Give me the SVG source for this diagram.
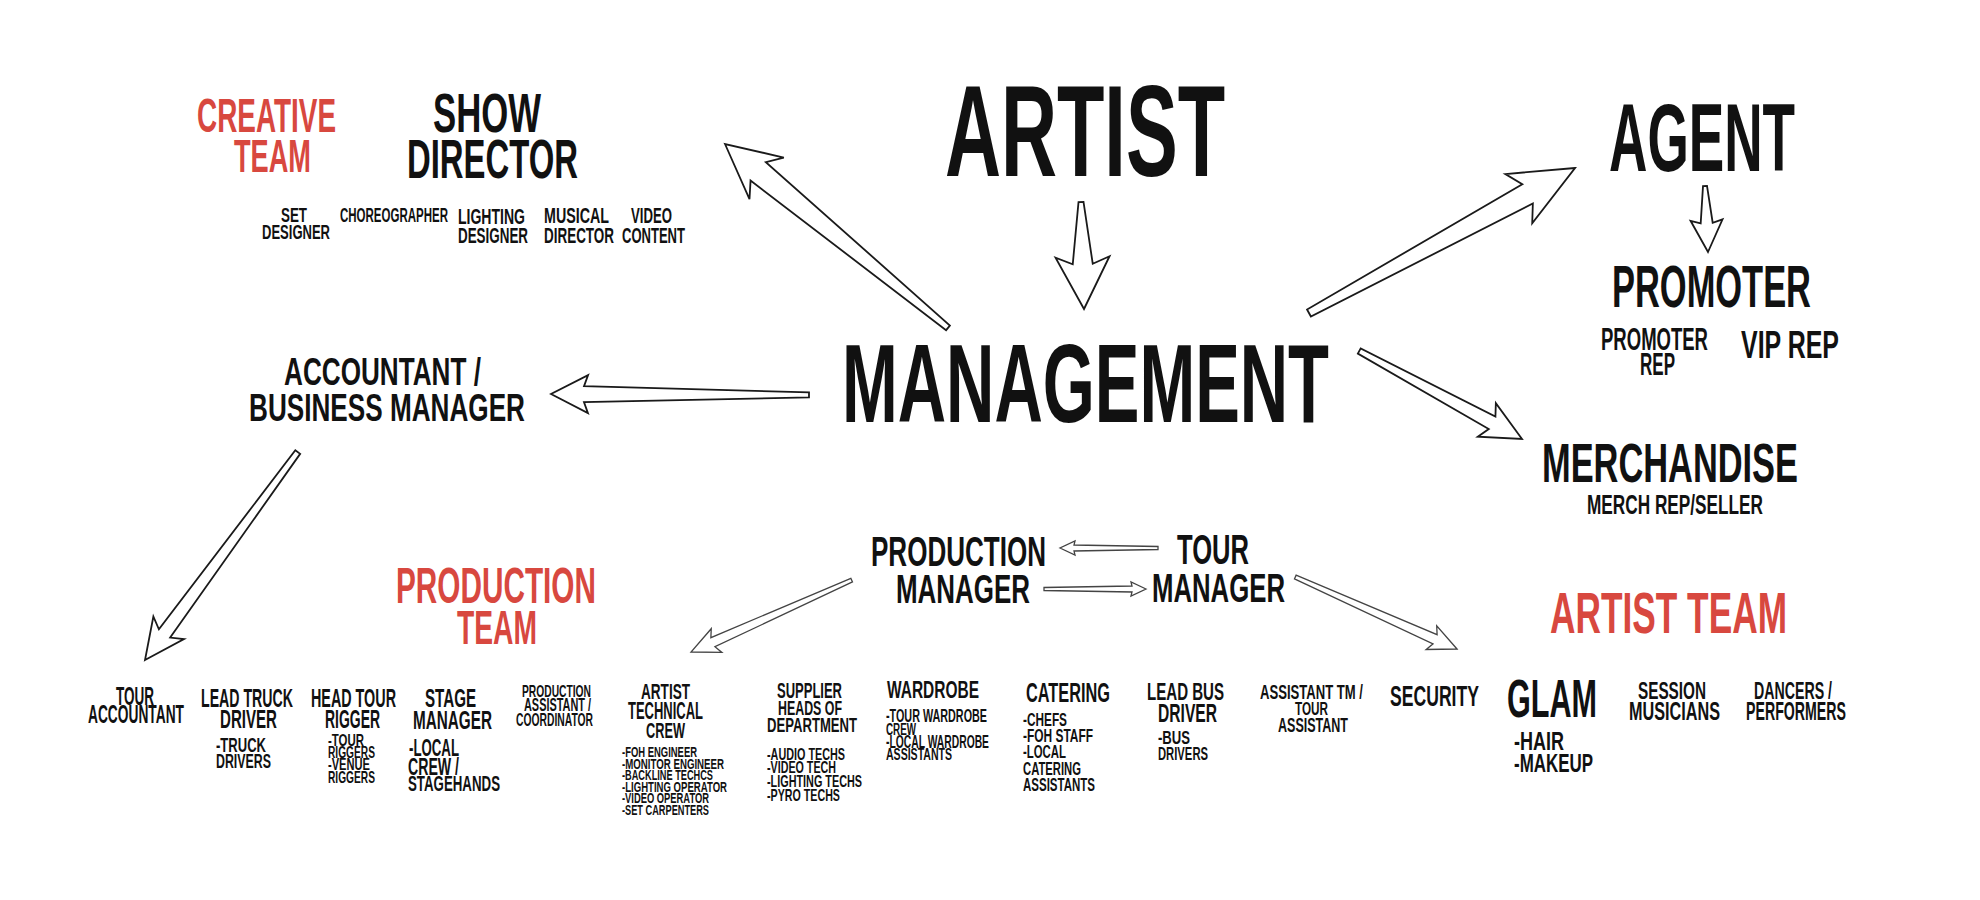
<svg xmlns="http://www.w3.org/2000/svg" width="1980" height="900" viewBox="0 0 1980 900">
<style>
text{font-family:"Liberation Sans Narrow","Liberation Sans",Arial,sans-serif;font-weight:bold;fill:#111}
.r{fill:#d8483f}
.arr{fill:#fff;stroke:#1a1a1a;stroke-width:1.8;stroke-linejoin:miter}
.sm{stroke:#444;stroke-width:1.3}
</style>
<rect width="1980" height="900" fill="#fff"/>
<g id="connectors">
<polygon class="arr" points="0,0 -54,-27 -43,-12 -289,-3 -289,3 -43,12 -54,27" transform="translate(725,144) rotate(-140.5)"/>
<polygon class="arr" points="0,0 -52,-27 -45,-10 -107,-2.5 -107,2.5 -45,10 -52,27" transform="translate(1084,309) rotate(88.4)"/>
<polygon class="arr" points="0,0 -64,-28 -54,-11 -303,-4 -303,4 -54,11 -64,28" transform="translate(1575,168) rotate(-28.6)"/>
<polygon class="arr" points="0,0 -32,-16 -29,-6 -66,-2 -66,2 -29,6 -32,16" transform="translate(1708,252) rotate(87.4)"/>
<polygon class="arr" points="0,0 -40,-19 -34,-7 -185,-3 -185,3 -34,7 -40,19" transform="translate(1522,439) rotate(28.4)"/>
<polygon class="arr" points="0,0 -37,-19 -33,-8 -258,-2.5 -258,2.5 -33,8 -37,19" transform="translate(551,394) rotate(180.2)"/>
<polygon class="arr" points="0,0 -40,-19 -33,-7 -258,-3 -258,3 -33,7 -40,19" transform="translate(145,660) rotate(126.3)"/>
<polygon class="arr sm" points="0,0 -28,-13 -24,-5 -176,-2 -176,2 -24,5 -28,13" transform="translate(691,652) rotate(155.9)"/>
<polygon class="arr sm" points="0,0 -15,-7 -14,-3 -98,-1.5 -98,1.5 -14,3 -15,7" transform="translate(1060,548) rotate(180)"/>
<polygon class="arr sm" points="0,0 -15,-7 -14,-3 -102,-1.5 -102,1.5 -14,3 -15,7" transform="translate(1146,589)"/>
<polygon class="arr sm" points="0,0 -28,-13 -24,-5 -177,-2 -177,2 -24,5 -28,13" transform="translate(1457,649) rotate(24)"/>
</g>
<g id="creative-team">
<text class="r" x="197" y="132" font-size="49" textLength="139" lengthAdjust="spacingAndGlyphs">CREATIVE</text>
<text class="r" x="234" y="172" font-size="47" textLength="77" lengthAdjust="spacingAndGlyphs">TEAM</text>
</g>
<g id="show-director">
<text x="433" y="132" font-size="56" textLength="108" lengthAdjust="spacingAndGlyphs">SHOW</text>
<text x="407" y="178" font-size="55" textLength="171" lengthAdjust="spacingAndGlyphs">DIRECTOR</text>
</g>
<g id="set-designer">
<text x="281" y="222" font-size="21" textLength="26" lengthAdjust="spacingAndGlyphs">SET</text>
<text x="262" y="239" font-size="20" textLength="68" lengthAdjust="spacingAndGlyphs">DESIGNER</text>
</g>
<g id="choreographer">
<text x="340" y="222" font-size="21" textLength="108" lengthAdjust="spacingAndGlyphs">CHOREOGRAPHER</text>
</g>
<g id="lighting-designer">
<text x="458" y="224" font-size="22" textLength="67" lengthAdjust="spacingAndGlyphs">LIGHTING</text>
<text x="458" y="243" font-size="22" textLength="70" lengthAdjust="spacingAndGlyphs">DESIGNER</text>
</g>
<g id="musical-director">
<text x="544" y="223" font-size="22" textLength="65" lengthAdjust="spacingAndGlyphs">MUSICAL</text>
<text x="544" y="243" font-size="22" textLength="70" lengthAdjust="spacingAndGlyphs">DIRECTOR</text>
</g>
<g id="video-content">
<text x="631" y="223" font-size="22" textLength="41" lengthAdjust="spacingAndGlyphs">VIDEO</text>
<text x="622" y="243" font-size="22" textLength="63" lengthAdjust="spacingAndGlyphs">CONTENT</text>
</g>
<g id="artist">
<text x="945" y="176" font-size="129" textLength="280" lengthAdjust="spacingAndGlyphs">ARTIST</text>
</g>
<g id="management">
<text x="842" y="422" font-size="112" textLength="487" lengthAdjust="spacingAndGlyphs">MANAGEMENT</text>
</g>
<g id="agent">
<text x="1609" y="171" font-size="96" textLength="186" lengthAdjust="spacingAndGlyphs">AGENT</text>
</g>
<g id="promoter">
<text x="1612" y="307" font-size="59" textLength="199" lengthAdjust="spacingAndGlyphs">PROMOTER</text>
</g>
<g id="promoter-rep">
<text x="1601" y="350" font-size="31" textLength="107" lengthAdjust="spacingAndGlyphs">PROMOTER</text>
<text x="1640" y="375" font-size="31" textLength="35" lengthAdjust="spacingAndGlyphs">REP</text>
</g>
<g id="vip-rep">
<text x="1741" y="358" font-size="39" textLength="98" lengthAdjust="spacingAndGlyphs">VIP REP</text>
</g>
<g id="merchandise">
<text x="1542" y="482" font-size="56" textLength="256" lengthAdjust="spacingAndGlyphs">MERCHANDISE</text>
<text x="1587" y="514" font-size="27" textLength="176" lengthAdjust="spacingAndGlyphs">MERCH REP/SELLER</text>
</g>
<g id="accountant">
<text x="284" y="385" font-size="39" textLength="197" lengthAdjust="spacingAndGlyphs">ACCOUNTANT /</text>
<text x="249" y="421" font-size="39" textLength="276" lengthAdjust="spacingAndGlyphs">BUSINESS MANAGER</text>
</g>
<g id="production-team">
<text class="r" x="396" y="603" font-size="50" textLength="200" lengthAdjust="spacingAndGlyphs">PRODUCTION</text>
<text class="r" x="457" y="644" font-size="49" textLength="80" lengthAdjust="spacingAndGlyphs">TEAM</text>
</g>
<g id="artist-team">
<text class="r" x="1550" y="633" font-size="57" textLength="237" lengthAdjust="spacingAndGlyphs">ARTIST TEAM</text>
</g>
<g id="production-manager">
<text x="871" y="566" font-size="43" textLength="175" lengthAdjust="spacingAndGlyphs">PRODUCTION</text>
<text x="896" y="603" font-size="40" textLength="134" lengthAdjust="spacingAndGlyphs">MANAGER</text>
</g>
<g id="tour-manager">
<text x="1177" y="564" font-size="43" textLength="72" lengthAdjust="spacingAndGlyphs">TOUR</text>
<text x="1152" y="602" font-size="40" textLength="133" lengthAdjust="spacingAndGlyphs">MANAGER</text>
</g>
<g id="tour-accountant">
<text x="116" y="705" font-size="25" textLength="38" lengthAdjust="spacingAndGlyphs">TOUR</text>
<text x="88" y="723" font-size="25" textLength="96" lengthAdjust="spacingAndGlyphs">ACCOUNTANT</text>
</g>
<g id="lead-truck-driver">
<text x="201" y="707" font-size="26" textLength="92" lengthAdjust="spacingAndGlyphs">LEAD TRUCK</text>
<text x="220" y="728" font-size="26" textLength="57" lengthAdjust="spacingAndGlyphs">DRIVER</text>
<text x="216" y="752" font-size="21" textLength="50" lengthAdjust="spacingAndGlyphs">-TRUCK</text>
<text x="216" y="768" font-size="21" textLength="55" lengthAdjust="spacingAndGlyphs">DRIVERS</text>
</g>
<g id="head-tour-rigger">
<text x="311" y="707" font-size="26" textLength="85" lengthAdjust="spacingAndGlyphs">HEAD TOUR</text>
<text x="325" y="728" font-size="26" textLength="55" lengthAdjust="spacingAndGlyphs">RIGGER</text>
<text x="328" y="746" font-size="17" textLength="36" lengthAdjust="spacingAndGlyphs">-TOUR</text>
<text x="328" y="758" font-size="16" textLength="47" lengthAdjust="spacingAndGlyphs">RIGGERS</text>
<text x="328" y="770" font-size="17" textLength="42" lengthAdjust="spacingAndGlyphs">-VENUE</text>
<text x="328" y="783" font-size="17" textLength="47" lengthAdjust="spacingAndGlyphs">RIGGERS</text>
</g>
<g id="stage-manager">
<text x="425" y="707" font-size="26" textLength="51" lengthAdjust="spacingAndGlyphs">STAGE</text>
<text x="413" y="729" font-size="26" textLength="79" lengthAdjust="spacingAndGlyphs">MANAGER</text>
<text x="409" y="756" font-size="24" textLength="50" lengthAdjust="spacingAndGlyphs">-LOCAL</text>
<text x="408" y="775" font-size="24" textLength="51" lengthAdjust="spacingAndGlyphs">CREW /</text>
<text x="408" y="791" font-size="22" textLength="92" lengthAdjust="spacingAndGlyphs">STAGEHANDS</text>
</g>
<g id="production-assistant">
<text x="522" y="697" font-size="17" textLength="69" lengthAdjust="spacingAndGlyphs">PRODUCTION</text>
<text x="524" y="711" font-size="18" textLength="67" lengthAdjust="spacingAndGlyphs">ASSISTANT /</text>
<text x="516" y="726" font-size="18" textLength="77" lengthAdjust="spacingAndGlyphs">COORDINATOR</text>
</g>
<g id="artist-technical-crew">
<text x="641" y="699" font-size="22" textLength="49" lengthAdjust="spacingAndGlyphs">ARTIST</text>
<text x="628" y="719" font-size="23" textLength="75" lengthAdjust="spacingAndGlyphs">TECHNICAL</text>
<text x="646" y="738" font-size="22" textLength="39" lengthAdjust="spacingAndGlyphs">CREW</text>
<text x="622" y="757" font-size="15" textLength="75" lengthAdjust="spacingAndGlyphs">-FOH ENGINEER</text>
<text x="622" y="769" font-size="15" textLength="102" lengthAdjust="spacingAndGlyphs">-MONITOR ENGINEER</text>
<text x="622" y="780" font-size="15" textLength="91" lengthAdjust="spacingAndGlyphs">-BACKLINE TECHCS</text>
<text x="622" y="792" font-size="15" textLength="105" lengthAdjust="spacingAndGlyphs">-LIGHTING OPERATOR</text>
<text x="622" y="803" font-size="15" textLength="87" lengthAdjust="spacingAndGlyphs">-VIDEO OPERATOR</text>
<text x="622" y="815" font-size="15" textLength="87" lengthAdjust="spacingAndGlyphs">-SET CARPENTERS</text>
</g>
<g id="supplier-heads">
<text x="777" y="698" font-size="22" textLength="65" lengthAdjust="spacingAndGlyphs">SUPPLIER</text>
<text x="778" y="715" font-size="21" textLength="64" lengthAdjust="spacingAndGlyphs">HEADS OF</text>
<text x="767" y="732" font-size="21" textLength="90" lengthAdjust="spacingAndGlyphs">DEPARTMENT</text>
<text x="767" y="760" font-size="17" textLength="78" lengthAdjust="spacingAndGlyphs">-AUDIO TECHS</text>
<text x="767" y="773" font-size="17" textLength="69" lengthAdjust="spacingAndGlyphs">-VIDEO TECH</text>
<text x="767" y="787" font-size="17" textLength="95" lengthAdjust="spacingAndGlyphs">-LIGHTING TECHS</text>
<text x="767" y="801" font-size="17" textLength="73" lengthAdjust="spacingAndGlyphs">-PYRO TECHS</text>
</g>
<g id="wardrobe">
<text x="887" y="698" font-size="24" textLength="92" lengthAdjust="spacingAndGlyphs">WARDROBE</text>
<text x="886" y="722" font-size="18" textLength="101" lengthAdjust="spacingAndGlyphs">-TOUR WARDROBE</text>
<text x="886" y="735" font-size="16" textLength="30" lengthAdjust="spacingAndGlyphs">CREW</text>
<text x="886" y="748" font-size="18" textLength="103" lengthAdjust="spacingAndGlyphs">-LOCAL WARDROBE</text>
<text x="886" y="760" font-size="16" textLength="66" lengthAdjust="spacingAndGlyphs">ASSISTANTS</text>
</g>
<g id="catering">
<text x="1026" y="702" font-size="27" textLength="84" lengthAdjust="spacingAndGlyphs">CATERING</text>
<text x="1023" y="726" font-size="18" textLength="44" lengthAdjust="spacingAndGlyphs">-CHEFS</text>
<text x="1023" y="742" font-size="19" textLength="70" lengthAdjust="spacingAndGlyphs">-FOH STAFF</text>
<text x="1023" y="758" font-size="18" textLength="43" lengthAdjust="spacingAndGlyphs">-LOCAL</text>
<text x="1023" y="775" font-size="18" textLength="58" lengthAdjust="spacingAndGlyphs">CATERING</text>
<text x="1023" y="791" font-size="18" textLength="72" lengthAdjust="spacingAndGlyphs">ASSISTANTS</text>
</g>
<g id="lead-bus-driver">
<text x="1147" y="700" font-size="24" textLength="77" lengthAdjust="spacingAndGlyphs">LEAD BUS</text>
<text x="1158" y="722" font-size="26" textLength="59" lengthAdjust="spacingAndGlyphs">DRIVER</text>
<text x="1158" y="744" font-size="18" textLength="32" lengthAdjust="spacingAndGlyphs">-BUS</text>
<text x="1158" y="760" font-size="18" textLength="50" lengthAdjust="spacingAndGlyphs">DRIVERS</text>
</g>
<g id="assistant-tm">
<text x="1260" y="699" font-size="20" textLength="103" lengthAdjust="spacingAndGlyphs">ASSISTANT TM /</text>
<text x="1295" y="715" font-size="18" textLength="33" lengthAdjust="spacingAndGlyphs">TOUR</text>
<text x="1278" y="732" font-size="20" textLength="70" lengthAdjust="spacingAndGlyphs">ASSISTANT</text>
</g>
<g id="security">
<text x="1390" y="706" font-size="29" textLength="89" lengthAdjust="spacingAndGlyphs">SECURITY</text>
</g>
<g id="glam">
<text x="1507" y="717" font-size="53" textLength="90" lengthAdjust="spacingAndGlyphs">GLAM</text>
<text x="1514" y="750" font-size="25" textLength="50" lengthAdjust="spacingAndGlyphs">-HAIR</text>
<text x="1514" y="772" font-size="26" textLength="79" lengthAdjust="spacingAndGlyphs">-MAKEUP</text>
</g>
<g id="session-musicians">
<text x="1638" y="699" font-size="24" textLength="68" lengthAdjust="spacingAndGlyphs">SESSION</text>
<text x="1629" y="720" font-size="25" textLength="91" lengthAdjust="spacingAndGlyphs">MUSICIANS</text>
</g>
<g id="dancers-performers">
<text x="1754" y="699" font-size="24" textLength="78" lengthAdjust="spacingAndGlyphs">DANCERS /</text>
<text x="1746" y="720" font-size="25" textLength="100" lengthAdjust="spacingAndGlyphs">PERFORMERS</text>
</g>
</svg>
